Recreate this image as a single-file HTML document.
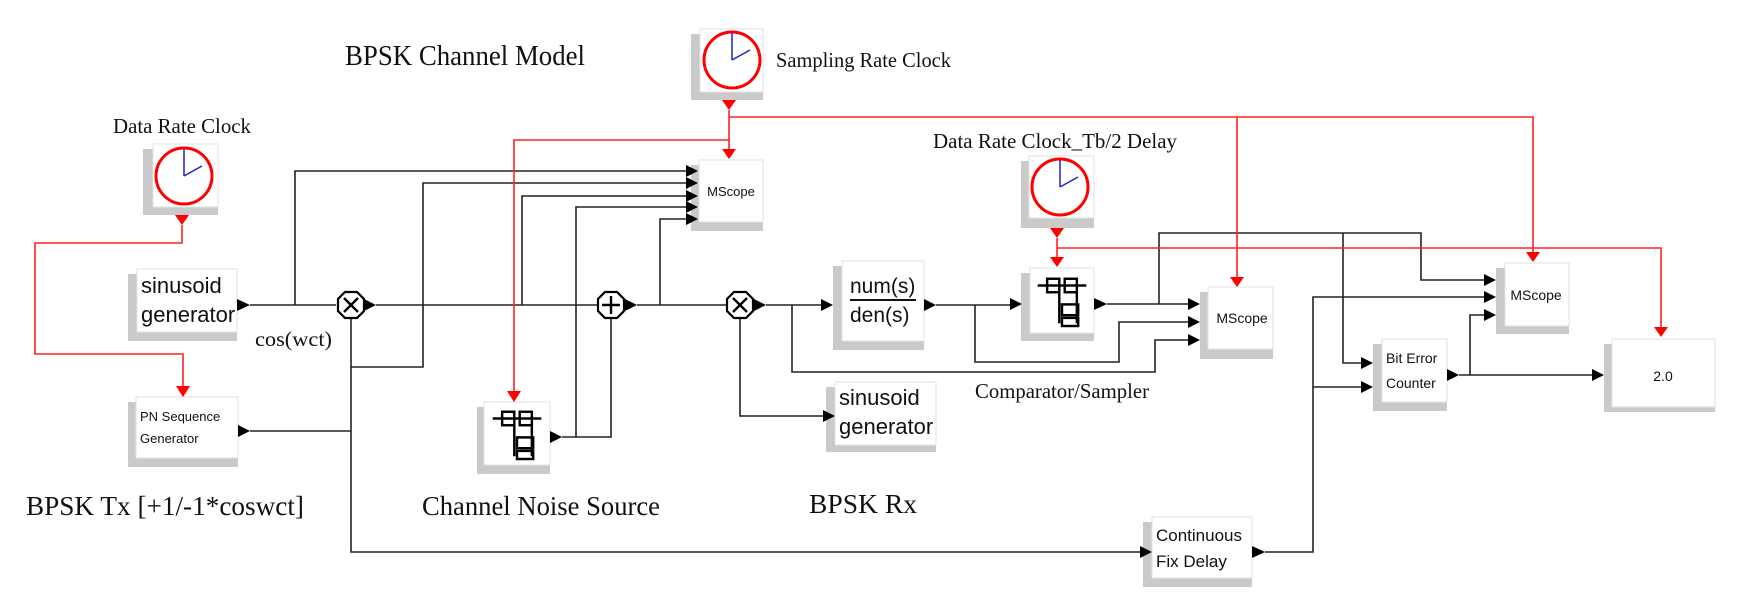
<!DOCTYPE html>
<html><head><meta charset="utf-8"><style>
html,body{margin:0;padding:0;background:#fff}
svg{display:block}
.t{font-family:"Liberation Serif",serif;fill:#111}
.a{font-family:"Liberation Sans",sans-serif;fill:#111}
</style></head><body>
<svg width="1751" height="616" viewBox="0 0 1751 616" xmlns="http://www.w3.org/2000/svg">
<defs>
<g id="clk"><circle cx="0" cy="0" r="28" fill="none" stroke="#f00" stroke-width="3"/><path d="M0 0V-27M0 0L18 -10" stroke="#22c" stroke-width="1.5" fill="none"/></g>
<g id="ico" fill="none" stroke="#000" stroke-width="1.8"><path d="M-18 -10H18"/><rect x="-11" y="-15" width="9" height="10"/><rect x="2" y="-15" width="9" height="10"/><path d="M-2 -5V18M11 -5V18"/><rect x="0" y="4" width="12" height="8"/><rect x="0" y="14" width="12" height="6"/></g>
</defs>
<g fill="#cacaca">
<rect x="143" y="149" width="75" height="66"/>
<rect x="128" y="274" width="109" height="67"/>
<rect x="128" y="402" width="110" height="65"/>
<rect x="691" y="34" width="72" height="66"/>
<rect x="691" y="165" width="72" height="66"/>
<rect x="477" y="407" width="73" height="67"/>
<rect x="833" y="266" width="91" height="84"/>
<rect x="826" y="387" width="110" height="65"/>
<rect x="1021" y="161" width="73" height="67"/>
<rect x="1021" y="273" width="73" height="68"/>
<rect x="1200" y="292" width="73" height="67"/>
<rect x="1373" y="344" width="74" height="67"/>
<rect x="1496" y="268" width="73" height="66"/>
<rect x="1604" y="344" width="111" height="68"/>
<rect x="1143" y="522" width="109" height="65"/>
</g>
<g fill="#fff" stroke="#e2e2e2" stroke-width="1">
<rect x="153" y="144" width="65" height="63"/>
<rect x="137" y="269" width="100" height="63"/>
<rect x="136" y="397" width="102" height="61"/>
<rect x="700" y="29" width="63" height="63"/>
<rect x="699" y="160" width="64" height="62"/>
<rect x="484" y="402" width="66" height="63"/>
<rect x="842" y="261" width="82" height="80"/>
<rect x="835" y="382" width="101" height="63"/>
<rect x="1029" y="156" width="65" height="62"/>
<rect x="1030" y="268" width="64" height="65"/>
<rect x="1208" y="287" width="65" height="62"/>
<rect x="1382" y="339" width="65" height="63"/>
<rect x="1505" y="263" width="64" height="63"/>
<rect x="1612" y="339" width="103" height="68"/>
<rect x="1152" y="517" width="100" height="61"/>
</g>
<use href="#clk" x="184" y="176"/>
<use href="#clk" x="732" y="60"/>
<use href="#clk" x="1060" y="187"/>
<g transform="translate(517,432) scale(1.35)"><use href="#ico"/></g>
<g transform="translate(1062,299) scale(1.35)"><use href="#ico"/></g>
<g fill="none" stroke="#222" stroke-width="1.6">
<path d="M250 305H336"/>
<path d="M295 305V171H688"/>
<path d="M376 305H597"/>
<path d="M522 305V196H688"/>
<path d="M351 319V552H1142"/>
<path d="M351 367H423V183H688"/>
<path d="M351 431H250"/>
<path d="M562 437H611V319"/>
<path d="M576 437V207H688"/>
<path d="M637 305H726"/>
<path d="M660 305V219H688"/>
<path d="M766 305H823"/>
<path d="M792 305V372H1155V340H1190"/>
<path d="M740 319V416H825"/>
<path d="M936 305H1012"/>
<path d="M975 305V362H1119V322H1190"/>
<path d="M1107 304H1190"/>
<path d="M1159 304V233H1421V280H1486"/>
<path d="M1343 233V363H1363"/>
<path d="M1265 552H1313V297H1486"/>
<path d="M1313 387H1363"/>
<path d="M1459 375H1594"/>
<path d="M1470 375V315H1486"/>
<path d="M850 300H916" stroke="#111" stroke-width="2"/>
</g>
<g fill="#000">
<path d="M237 299L250 305L237 311Z"/>
<path d="M238 425L250 431L238 437Z"/>
<path d="M550 431L562 437L550 443Z"/>
<path d="M364 299L376 305L364 311Z"/>
<path d="M625 299L637 305L625 311Z"/>
<path d="M754 299L766 305L754 311Z"/>
<path d="M821 299L833 305L821 311Z"/>
<path d="M924 299L936 305L924 311Z"/>
<path d="M1010 298L1022 304L1010 310Z"/>
<path d="M1094 298L1107 304L1094 310Z"/>
<path d="M823 410L835 416L823 422Z"/>
<path d="M686 165L698 171L686 177Z"/>
<path d="M686 177L698 183L686 189Z"/>
<path d="M686 190L698 196L686 202Z"/>
<path d="M686 201L698 207L686 213Z"/>
<path d="M686 213L698 219L686 225Z"/>
<path d="M1188 298L1200 304L1188 310Z"/>
<path d="M1188 316L1200 322L1188 328Z"/>
<path d="M1188 334L1200 340L1188 346Z"/>
<path d="M1361 357L1373 363L1361 369Z"/>
<path d="M1361 381L1373 387L1361 393Z"/>
<path d="M1447 369L1459 375L1447 381Z"/>
<path d="M1484 274L1496 280L1484 286Z"/>
<path d="M1484 291L1496 297L1484 303Z"/>
<path d="M1484 309L1496 315L1484 321Z"/>
<path d="M1592 369L1604 375L1592 381Z"/>
<path d="M1140 546L1152 552L1140 558Z"/>
<path d="M1252 546L1265 552L1252 558Z"/>
</g>
<g fill="#fff" stroke="#000" stroke-width="2.2">
<polygon points="357,292 364,299 364,311 357,318 345,318 338,311 338,299 345,292"/>
<polygon points="617,292 624,299 624,311 617,318 605,318 598,311 598,299 605,292"/>
<polygon points="746,292 753,299 753,311 746,318 734,318 727,311 727,299 734,292"/>
</g>
<g stroke="#000" stroke-width="2.4">
<path d="M344 298L358 312M358 298L344 312"/>
<path d="M611 296V314M602 305H620"/>
<path d="M733 298L747 312M747 298L733 312"/>
</g>
<g fill="none" stroke="#f22" stroke-width="1.6">
<path d="M182 225V243H35V354H183V387"/>
<path d="M729 110V150"/>
<path d="M729 117H1533V254"/>
<path d="M1237 117V279"/>
<path d="M729 140H514V393"/>
<path d="M1057 238V259"/>
<path d="M1057 248H1661V329"/>
</g>
<g fill="#f00">
<path d="M175 215L189 215L182 225Z"/>
<path d="M176 386L190 386L183 397Z"/>
<path d="M722 100L736 100L729 110Z"/>
<path d="M722 149L736 149L729 159Z"/>
<path d="M507 391L521 391L514 402Z"/>
<path d="M1526 252L1540 252L1533 262Z"/>
<path d="M1230 277L1244 277L1237 287Z"/>
<path d="M1050 228L1064 228L1057 238Z"/>
<path d="M1050 257L1064 257L1057 267Z"/>
<path d="M1654 327L1668 327L1661 337Z"/>
</g>
<g lengthAdjust="spacingAndGlyphs">
<text class="t" x="113" y="133" font-size="21" textLength="138" lengthAdjust="spacingAndGlyphs">Data Rate Clock</text>
<text class="t" x="345" y="65" font-size="28" textLength="240" lengthAdjust="spacingAndGlyphs">BPSK Channel Model</text>
<text class="t" x="776" y="67" font-size="21" textLength="175" lengthAdjust="spacingAndGlyphs">Sampling Rate Clock</text>
<text class="t" x="933" y="148" font-size="21" textLength="244" lengthAdjust="spacingAndGlyphs">Data Rate Clock_Tb/2 Delay</text>
<text class="t" x="255" y="346" font-size="21" textLength="77" lengthAdjust="spacingAndGlyphs">cos(wct)</text>
<text class="t" x="975" y="398" font-size="21" textLength="174" lengthAdjust="spacingAndGlyphs">Comparator/Sampler</text>
<text class="t" x="26" y="515" font-size="27" textLength="278" lengthAdjust="spacingAndGlyphs">BPSK Tx [+1/-1*coswct]</text>
<text class="t" x="422" y="515" font-size="27" textLength="238" lengthAdjust="spacingAndGlyphs">Channel Noise Source</text>
<text class="t" x="809" y="513" font-size="27" textLength="108" lengthAdjust="spacingAndGlyphs">BPSK Rx</text>
</g>
<text class="a" x="141" y="293" font-size="22">sinusoid</text>
<text class="a" x="141" y="322" font-size="22">generator</text>
<text class="a" x="839" y="405" font-size="22">sinusoid</text>
<text class="a" x="839" y="434" font-size="22">generator</text>
<text class="a" x="140" y="421" font-size="13">PN Sequence</text>
<text class="a" x="140" y="443" font-size="13">Generator</text>
<text class="a" x="731" y="196" font-size="13" text-anchor="middle">MScope</text>
<text class="a" x="1242" y="323" font-size="14" text-anchor="middle">MScope</text>
<text class="a" x="1536" y="300" font-size="14" text-anchor="middle">MScope</text>
<text class="a" x="850" y="293" font-size="21">num(s)</text>
<text class="a" x="850" y="322" font-size="21">den(s)</text>
<text class="a" x="1386" y="363" font-size="14">Bit Error</text>
<text class="a" x="1386" y="388" font-size="14">Counter</text>
<text class="a" x="1663" y="381" font-size="14" text-anchor="middle">2.0</text>
<text class="a" x="1156" y="541" font-size="17">Continuous</text>
<text class="a" x="1156" y="567" font-size="17">Fix Delay</text>
</svg>
</body></html>
